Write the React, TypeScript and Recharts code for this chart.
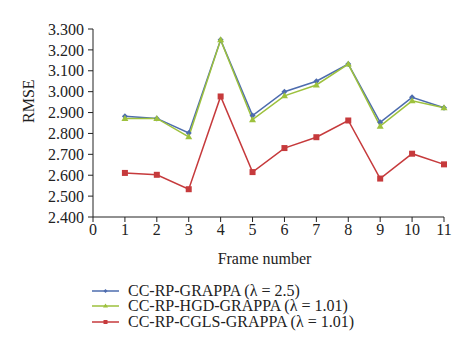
import { LineChart, Line, XAxis, YAxis } from 'recharts';

const frames = [1, 2, 3, 4, 5, 6, 7, 8, 9, 10, 11];
const grappa = [2.882, 2.872, 2.802, 3.248, 2.886, 3.0, 3.05, 3.132, 2.853, 2.973, 2.923];
const hgd = [2.872, 2.872, 2.784, 3.248, 2.866, 2.98, 3.032, 3.132, 2.835, 2.956, 2.923];
const cgls = [2.611, 2.602, 2.533, 2.977, 2.615, 2.73, 2.782, 2.862, 2.584, 2.703, 2.652];

const xTicks = [0, 1, 2, 3, 4, 5, 6, 7, 8, 9, 10, 11];
const yTicks = [2.4, 2.5, 2.6, 2.7, 2.8, 2.9, 3.0, 3.1, 3.2, 3.3];

const seriesNames = [
  'CC-RP-GRAPPA (λ = 2.5)',
  'CC-RP-HGD-GRAPPA (λ = 1.01)',
  'CC-RP-CGLS-GRAPPA (λ = 1.01)',
];

const BLUE = '#4d6cae';
const GREEN = '#9dc13d';
const RED = '#c63a3c';
const FONT = '"Liberation Serif", "DejaVu Serif", serif';

const data = frames.map((f, i) => ({
  frame: f,
  grappa: grappa[i],
  hgd: hgd[i],
  cgls: cgls[i],
}));

function Diamond(props: any) {
  const { cx, cy, index } = props;
  return <path key={index} d={`M${cx},${cy - 3}L${cx + 3},${cy}L${cx},${cy + 3}L${cx - 3},${cy}Z`} fill={BLUE} />;
}

function Triangle(props: any) {
  const { cx, cy, index } = props;
  return <path key={index} d={`M${cx},${cy - 3.5}L${cx + 3.5},${cy + 2.5}L${cx - 3.5},${cy + 2.5}Z`} fill={GREEN} />;
}

function Square(props: any) {
  const { cx, cy, index } = props;
  return <rect key={index} x={cx - 3} y={cy - 3} width={6} height={6} fill={RED} />;
}

const legendColors = [BLUE, GREEN, RED];

// legend drawn outside the chart so it doesn't eat plot height
function LegendBox() {
  return (
    <div style={{ position: 'absolute', left: 92, top: 283, fontFamily: FONT, fontSize: 16, color: '#222' }}>
      {seriesNames.map((n, i) => (
        <div key={n} style={{ display: 'flex', alignItems: 'center', height: 15.5 }}>
          <svg width={36} height={10}>
            <line x1={0} y1={5} x2={27} y2={5} stroke={legendColors[i]} strokeWidth={1.5} />
            {i === 0 && <path d="M13.5,3L15.5,5L13.5,7L11.5,5Z" fill={BLUE} />}
            {i === 1 && <path d="M13.5,2.5L16,6.5L11,6.5Z" fill={GREEN} />}
            {i === 2 && <rect x={11.5} y={3} width={4} height={4} fill={RED} />}
          </svg>
          <span style={{ whiteSpace: 'nowrap' }}>{n}</span>
        </div>
      ))}
    </div>
  );
}

export default function App() {
  return (
    <div style={{ position: 'absolute', left: 0, top: 0, width: 474, height: 360, background: '#fff' }}>
      <LineChart width={474} height={360} data={data} margin={{ top: 29, right: 30, left: 20, bottom: 89 }}>
        <XAxis
          dataKey="frame"
          type="number"
          domain={[0, 11]}
          ticks={xTicks}
          interval={0}
          stroke="#222"
          tickLine={{ stroke: '#222' }}
          tickSize={5}
          tick={{ fill: '#222', fontSize: 16, fontFamily: FONT }}
          height={54}
          label={{
            value: 'Frame number',
            position: 'insideBottom',
            offset: 7,
            dx: -4,
            fill: '#222',
            fontSize: 16,
            fontFamily: FONT,
          }}
        />
        <YAxis
          type="number"
          domain={[2.4, 3.3]}
          ticks={yTicks}
          interval={0}
          width={73}
          stroke="#222"
          tickSize={5}
          tickMargin={4}
          tickFormatter={(v: number) => v.toFixed(3)}
          tick={{ fill: '#222', fontSize: 16, fontFamily: FONT }}
          label={{
            value: 'RMSE',
            angle: -90,
            position: 'insideLeft',
            offset: 8,
            fill: '#222',
            fontSize: 16,
            fontFamily: FONT,
          }}
        />
        <Line dataKey="grappa" name={seriesNames[0]} stroke={BLUE} strokeWidth={1.5} dot={<Diamond />} activeDot={false} isAnimationActive={false} />
        <Line dataKey="hgd" name={seriesNames[1]} stroke={GREEN} strokeWidth={1.5} dot={<Triangle />} activeDot={false} isAnimationActive={false} />
        <Line dataKey="cgls" name={seriesNames[2]} stroke={RED} strokeWidth={1.5} dot={<Square />} activeDot={false} isAnimationActive={false} />
      </LineChart>
      <LegendBox />
    </div>
  );
}
